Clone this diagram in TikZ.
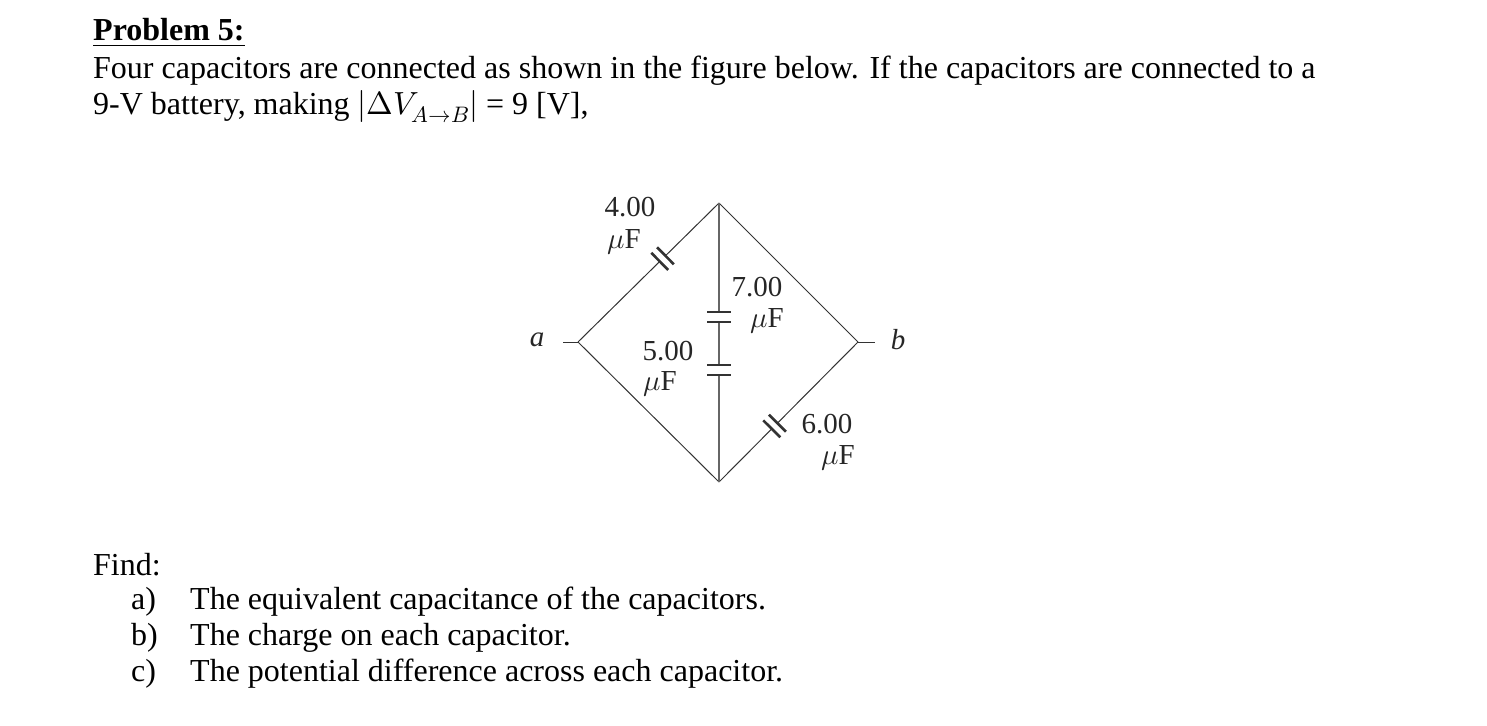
\documentclass[tikz,border=0pt]{standalone}
\usetikzlibrary{calc}
\usepackage{fontspec}
\setmainfont{Liberation Serif}
\usepackage{unicode-math}
\setmathfont{Latin Modern Math}
\begin{document}
\begin{tikzpicture}[x=1pt,y=-1pt,
  txt/.style={anchor=west,inner sep=0pt,font=\fontsize{32}{38}\selectfont},
  lab/.style={inner sep=0pt,font=\fontsize{29}{30}\selectfont,text=black!85},
  wire/.style={line width=1pt,black!80},
  plate/.style={line width=2.6pt,black!80}]
\useasboundingbox (0,0) rectangle (1487,725);
\node[txt] (t0) at (93,33) {\textbf{\underline{Problem 5:}}};
\node[txt] (t1) at (93,71) {Four capacitors are connected as shown in the figure below. If the capacitors are connected to a};
\node[txt] (t2) at (93,107) {9-V battery, making $|\Delta V_{A\to B}|$ = 9 [V],};
\node[txt] (t3) at (93,565) {Find:};
\node[txt] (t4) at (131,602) {a)};
\node[txt] (t4b) at (190,602) {The equivalent capacitance of the capacitors.};
\node[txt] (t5) at (131,638) {b)};
\node[txt] (t5b) at (190,638) {The charge on each capacitor.};
\node[txt] (t6) at (131,674) {c)};
\node[txt] (t6b) at (190,674) {The potential difference across each capacitor.};
% circuit
\coordinate (A) at (578,342);
\coordinate (T) at (719,203);
\coordinate (B) at (719,482);
\coordinate (R) at (858,342);
\coordinate (ta) at (563,342);
\coordinate (tb) at (875,342);
\node[lab] (la) at (537,340) {\itshape a};
\node[lab] (lb) at (898,340) {\itshape b};
\draw[wire] (ta) -- (A);
\draw[wire] (R) -- (tb);
\draw[wire] (T) -- (R);
\draw[wire] (A) -- (B);
% C4 on A-T
\draw[wire] (A) -- ($(A)!0.6!(T)!4pt!(A)$);
\draw[wire] ($(A)!0.6!(T)!4pt!(T)$) -- (T);
\draw[plate] ($(A)!0.6!(T)!4pt!(A)!12pt!90:(T)$) -- ($(A)!0.6!(T)!4pt!(A)!12pt!-90:(T)$);
\draw[plate] ($(A)!0.6!(T)!4pt!(T)!12pt!90:(A)$) -- ($(A)!0.6!(T)!4pt!(T)!12pt!-90:(A)$);
% C6 on B-R
\draw[wire] (B) -- ($(B)!0.4!(R)!4pt!(B)$);
\draw[wire] ($(B)!0.4!(R)!4pt!(R)$) -- (R);
\draw[plate] ($(B)!0.4!(R)!4pt!(B)!12pt!90:(R)$) -- ($(B)!0.4!(R)!4pt!(B)!12pt!-90:(R)$);
\draw[plate] ($(B)!0.4!(R)!4pt!(R)!12pt!90:(B)$) -- ($(B)!0.4!(R)!4pt!(R)!12pt!-90:(B)$);
% vertical
\draw[line width=2pt,black!60] (T) -- (719,312) (719,322) -- (719,365) (719,375) -- (B);
\draw[plate] (707,312) -- (731,312) (707,322) -- (731,322);
\draw[plate] (707,365) -- (731,365) (707,375) -- (731,375);
\node[lab] (l4a) at (630,207) {4.00};
\node[lab] (l4b) at (624,242) {$\mu$F};
\node[lab] (l7a) at (757,287) {7.00};
\node[lab] (l7b) at (767,321) {$\mu$F};
\node[lab] (l5a) at (668,351) {5.00};
\node[lab] (l5b) at (660,384) {$\mu$F};
\node[lab] (l6a) at (827,424) {6.00};
\node[lab] (l6b) at (838,458) {$\mu$F};
\end{tikzpicture}
\end{document}
